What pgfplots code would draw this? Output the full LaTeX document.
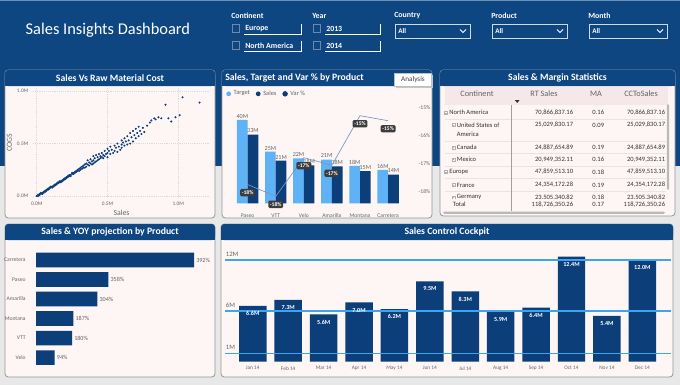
\documentclass[border=0pt]{standalone}
\usepackage{fontspec}
\setmainfont{Carlito}
\usepackage{pgfplots}
\usepackage{pgfplotstable}
\pgfplotsset{compat=1.18}
\pgfplotsset{/pgf/number format/assume math mode=true}
\definecolor{hdr}{RGB}{14,70,130}
\definecolor{navy}{RGB}{12,62,122}
\definecolor{tgt}{RGB}{95,178,245}
\definecolor{panelbg}{RGB}{253,246,245}
\definecolor{pagebg}{RGB}{232,232,232}
\definecolor{bordr}{RGB}{150,150,150}
\definecolor{txtgrey}{RGB}{100,100,100}
\definecolor{tabtxt}{RGB}{50,50,50}
\definecolor{hdrrow}{RGB}{246,232,232}
\definecolor{cockline}{RGB}{60,165,240}
\definecolor{varline}{RGB}{120,150,200}
\definecolor{lblbox}{RGB}{60,60,60}
\definecolor{chk}{RGB}{110,135,170}
\newcommand\fs[1]{\fontsize{#1}{#1}\selectfont}
\newcommand\panel[4]{%
 \fill[panelbg, draw=bordr, line width=0.6pt, rounded corners=2.5pt] (#1,#2) rectangle (#3,#4);
 \fill[hdr, rounded corners=2.5pt] (#1,#2) rectangle (#3,#2+16);
 \fill[hdr] (#1,#2+8) rectangle (#3,#2+16);}
\newcommand\trow[6]{%
 \draw[gray!60, line width=0.3pt] (#2,#1-1.5) rectangle (#2+3,#1+1.5);
 \draw[gray!60, line width=0.3pt] (#2+0.7,#1) -- (#2+2.3,#1);
 \node[anchor=west] at (#2+4,#1) {#3};
 \node[anchor=east] at (574,#1) {#4};
 \node[anchor=east] at (605,#1) {#5};
 \node[anchor=east] at (666,#1) {#6};}
\pgfplotstableread{
x tgt tl sal sl var vl
0 40.0 40 33.0 33 -17.76 -18
1 24.8 25 20.5 21 -18.18 -18
2 21.6 22 18.25 18 -16.80 -17
3 21.0 21 17.7 18 -17.07 -17
4 18.0 18 15.4 15 -15.30 -15
5 16.0 16 13.8 14 -15.48 -15
}\combo
\pgfplotstableread{
y len pct
0 18.7 94
1 36.0 180
2 37.3 187
3 61.3 304
4 72.3 358
5 158.0 392
}\yoy
\pgfplotstableread{
m v
0 6.6
1 7.3
2 5.6
3 7.0
4 6.2
5 9.5
6 8.3
7 5.9
8 6.4
9 12.4
10 5.4
11 12.0
}\cock
\begin{document}
\begin{tikzpicture}[x=0.75pt,y=-0.75pt]
\useasboundingbox (0,0) rectangle (680,385);
\fill[pagebg] (0,0) rectangle (680,385);
\fill[hdr] (0,0) rectangle (680,166);
\fill[hdr!60!white] (0,0) rectangle (680,1.5);
% header
\node[anchor=west, white, font=\fs{12.3}] at (21,30) {Sales Insights Dashboard};
\begin{scope}[every node/.style={anchor=west, white, font=\fs{5.9}\bfseries, inner sep=0pt}]
\node at (231,16) {Continent};
\node at (312,16) {Year};
\node at (394,16) {Country};
\node at (491,16) {Product};
\node at (588,16) {Month};
\node at (245,28.5) {Europe};
\node at (245,45.5) {North America};
\node at (326,28.5) {2013};
\node at (326,45.5) {2014};
\node[font=\fs{5.3}\bfseries] at (398,31.5) {All};
\node[font=\fs{5.3}\bfseries] at (495,31.5) {All};
\node[font=\fs{5.3}\bfseries] at (592,31.5) {All};
\end{scope}
\draw[chk, line width=0.5pt] (232,24.5) rectangle (239.5,32) (232,41.5) rectangle (239.5,49) (313,24.5) rectangle (320.5,32) (313,41.5) rectangle (320.5,49);
\draw[white, line width=0.6pt] (244,34) -- (301,34) -- (301,24) (244,51) -- (301,51) -- (301,41) (325,34) -- (380,34) -- (380,24) (325,51) -- (380,51) -- (380,41);
\draw[white!80!hdr, line width=0.6pt] (395,24.5) rectangle (470,38) (492,24.5) rectangle (567,38) (589,24.5) rectangle (667,38);
\draw[white, line width=0.6pt] (460,29.5) -- (463,32.5) -- (466,29.5) (557,29.5) -- (560,32.5) -- (563,29.5) (657,29.5) -- (660,32.5) -- (663,29.5);
% panels
\panel{5}{70}{215}{218}
\panel{222}{70}{432}{218}
\panel{440}{70}{675}{216}
\panel{5}{224}{215}{377}
\panel{221}{224}{673}{377}
\begin{scope}[every node/.style={white, font=\fs{7.3}\bfseries}]
\node at (110,78) {Sales Vs Raw Material Cost};
\node[anchor=west, inner sep=0pt] at (225,78) {Sales, Target and Var \% by Product};
\node at (557.5,78) {Sales \& Margin Statistics};
\node at (110,232) {Sales \& YOY projection by Product};
\node at (447,232) {Sales Control Cockpit};
\end{scope}
\fill[gray!45] (396,74.5) rectangle (433,87.5);
\fill[white, draw=gray!50, line width=0.4pt] (394.5,73) rectangle (431.5,86);
\node[font=\fs{5.4}, text=black!75] at (413,79.5) {Analysis};
% scatter
\begin{axis}[at={(24.75pt,-147.75pt)}, anchor=south west, scale only axis, width=132.75pt, height=81.75pt,
 xmin=-0.026, xmax=1.224, ymin=-0.0095, ymax=1.029,
 axis line style={draw=none}, tick style={draw=none},
 grid=major, grid style={densely dotted, gray!30},
 xtick={0,0.5,1}, xticklabels={0.0M,0.5M,1.0M}, ytick={0,0.5,1}, yticklabels={0.0M,0.5M,1.0M},
 ticklabel style={font=\fs{4}, text=txtgrey},
 xlabel={Sales}, ylabel={COGS}, label style={font=\fs{5.8}, text=txtgrey},
 xlabel style={yshift=3pt}, ylabel style={yshift=-3pt}]
\addplot[only marks, mark=*, mark size=0.55pt, navy] table {
x y
0.00 0.00
0.01 0.01
0.01 0.00
0.02 0.01
0.02 0.02
0.03 0.02
0.03 0.03
0.04 0.03
0.04 0.02
0.05 0.04
0.05 0.03
0.06 0.05
0.06 0.04
0.07 0.05
0.07 0.06
0.08 0.06
0.08 0.07
0.09 0.07
0.09 0.08
0.10 0.08
0.10 0.09
0.11 0.09
0.11 0.08
0.12 0.10
0.12 0.09
0.13 0.11
0.13 0.10
0.14 0.11
0.14 0.12
0.15 0.12
0.15 0.13
0.16 0.13
0.16 0.14
0.17 0.14
0.17 0.13
0.18 0.15
0.18 0.14
0.19 0.16
0.19 0.15
0.20 0.17
0.20 0.16
0.21 0.17
0.21 0.18
0.22 0.18
0.22 0.19
0.23 0.19
0.23 0.20
0.24 0.20
0.24 0.19
0.25 0.21
0.25 0.22
0.26 0.22
0.26 0.21
0.27 0.23
0.27 0.22
0.28 0.24
0.28 0.23
0.29 0.25
0.29 0.24
0.30 0.26
0.30 0.24
0.31 0.27
0.31 0.25
0.32 0.28
0.32 0.26
0.33 0.29
0.33 0.27
0.34 0.30
0.34 0.27
0.35 0.31
0.35 0.28
0.36 0.34
0.36 0.30
0.37 0.32
0.37 0.29
0.38 0.35
0.38 0.31
0.39 0.33
0.39 0.30
0.40 0.38
0.40 0.34
0.40 0.31
0.41 0.36
0.41 0.32
0.42 0.39
0.42 0.33
0.43 0.37
0.43 0.34
0.44 0.40
0.44 0.35
0.45 0.38
0.45 0.36
0.46 0.41
0.46 0.37
0.47 0.39
0.47 0.36
0.48 0.43
0.48 0.38
0.49 0.40
0.50 0.45
0.50 0.41
0.50 0.37
0.51 0.43
0.52 0.40
0.52 0.47
0.53 0.44
0.54 0.41
0.55 0.48
0.55 0.43
0.56 0.46
0.57 0.42
0.57 0.50
0.58 0.47
0.59 0.44
0.60 0.53
0.60 0.49
0.60 0.46
0.61 0.51
0.62 0.48
0.62 0.55
0.63 0.52
0.64 0.49
0.64 0.57
0.65 0.53
0.66 0.50
0.66 0.60
0.67 0.56
0.68 0.52
0.68 0.62
0.69 0.58
0.70 0.55
0.70 0.64
0.71 0.60
0.72 0.57
0.72 0.66
0.73 0.62
0.74 0.59
0.75 0.65
0.76 0.61
0.78 0.67
0.80 0.70
0.81 0.72
0.83 0.74
0.84 0.73
0.86 0.75
0.88 0.74
0.91 0.87
0.93 0.74
0.95 0.71
0.98 0.75
1.01 0.77
1.03 0.94
1.15 0.89
};
\end{axis}
% combo
\begin{axis}[at={(169.5pt,-152.475pt)}, anchor=south west, scale only axis, width=138pt, height=77.475pt,
 xmin=-0.77, xmax=5.78, ymin=0, ymax=49.6, clip=false,
 axis line style={draw=none}, tick style={draw=none},
 ytick=\empty, xtick={0,...,5}, xticklabels={Paseo,VTT,Velo,Amarilla,Montana,Carretera},
 xticklabel style={font=\fs{4.2}, text=txtgrey},
 ybar=0pt, bar width=8pt,
 nodes near coords={\pgfmathprintnumber{\pgfplotspointmeta}M}, point meta=explicit,
 every node near coord/.append style={font=\fs{4.6}, text=txtgrey, inner sep=1pt},
 legend style={at={(0,1)}, anchor=south west, draw=none, fill=none, font=\fs{4.8}, text=txtgrey, inner sep=0pt, /tikz/every even column/.append style={column sep=2.5pt}},
 legend columns=3, legend cell align=left]
\addplot[fill=tgt, draw=none, legend image code/.code={\fill[tgt] (0pt,0pt) circle (1.8pt);}] table[x=x,y=tgt,meta=tl]{\combo};
\addlegendentry{Target}
\addplot[fill=navy, draw=none, legend image code/.code={\fill[navy] (0pt,0pt) circle (1.8pt);}] table[x=x,y=sal,meta=sl]{\combo};
\addlegendentry{Sales}
\addlegendimage{legend image code/.code={\fill[navy] (0pt,0pt) circle (1.8pt);}}
\addlegendentry{Var \%}
\end{axis}
\begin{axis}[at={(169.5pt,-152.475pt)}, anchor=south west, scale only axis, width=138pt, height=77.475pt,
 xmin=-0.77, xmax=5.78, ymin=-18.43, ymax=-14.74, clip=false,
 hide x axis, axis y line*=right, axis line style={draw=none}, tick style={draw=none},
 ytick={-18,-17,-16,-15}, yticklabels={-18\%,-17\%,-16\%,-15\%},
 yticklabel style={font=\fs{4.2}, text=txtgrey, xshift=3pt}]
\addplot[varline, line width=0.5pt, mark=none, point meta=explicit,
 nodes near coords={\pgfmathprintnumber{\pgfplotspointmeta}\%},
 every node near coord/.append style={fill=lblbox, text=white, font=\fs{4.2}\bfseries, rounded corners=1pt, inner sep=1.3pt, anchor=north, yshift=-3pt}]
 table[x=x,y=var,meta=vl]{\combo};
\end{axis}
% table
\fill[hdrrow] (445,87) rectangle (668,104.5);
\begin{scope}[every node/.style={font=\fs{6.2}, text=txtgrey}]
\node at (477,94) {Continent};
\node at (544,94) {RT Sales};
\node at (596,94) {MA};
\node at (641,94) {CCToSales};
\end{scope}
\fill[black!80] (514.8,100) -- (519.6,100) -- (517.2,103) -- cycle;
\draw[gray!20, line width=0.4pt] (445,119.5) -- (666,119.5) (445,141) -- (666,141) (445,153.5) -- (666,153.5) (445,166) -- (666,166) (445,178.5) -- (666,178.5) (445,191) -- (666,191);
\begin{scope}[every node/.style={font=\fs{4.9}, text=tabtxt, inner sep=0.5pt}]
\trow{112.7}{444.5}{North America}{70,866,837.16}{0.16}{70,866,837.16}
\trow{125}{452}{United States of}{25,029,830.17}{0.09}{25,029,830.17}
\node[anchor=west] at (456,134) {America};
\trow{147.3}{452}{Canada}{24,887,654.89}{0.19}{24,887,654.89}
\trow{159.3}{452}{Mexico}{20,949,352.11}{0.16}{20,949,352.11}
\trow{172}{444.5}{Europe}{47,859,513.10}{0.18}{47,859,513.10}
\trow{185}{452}{France}{24,354,172.28}{0.19}{24,354,172.28}
\trow{197.3}{452}{Germany}{23,505,340.82}{0.18}{23,505,340.82}
\fill[panelbg] (444,199.3) rectangle (666,210.5);
\node[anchor=west] at (452,204.7) {Total};
\node[anchor=east] at (574,204.7) {118,726,350.26};
\node[anchor=east] at (605,204.7) {0.17};
\node[anchor=east] at (666,204.7) {118,726,350.26};
\end{scope}
\draw[gray!75, line width=0.6pt] (511.5,104.5) -- (511.5,210.5);
\fill[gray!55, rounded corners=1pt] (666.8,104) rectangle (669.2,190);
\fill[gray!55, rounded corners=1pt] (443,211.5) rectangle (665,213.8);
% YOY
\begin{axis}[at={(27pt,-276pt)}, anchor=south west, scale only axis, width=126.75pt, height=88.5pt,
 xmin=0, xmax=169, ymin=-0.53, ymax=5.51, clip=false,
 xbar, bar width=11pt, hide x axis, axis line style={draw=none}, tick style={draw=none},
 ytick={0,...,5}, yticklabels={Velo,VTT,Montana,Amarilla,Paseo,Carretera},
 yticklabel style={font=\fs{4.2}, text=txtgrey}]
\addplot[fill=navy, draw=none, point meta=explicit,
 nodes near coords={\pgfmathprintnumber{\pgfplotspointmeta}\%},
 every node near coord/.append style={font=\fs{4.6}, text=txtgrey, anchor=west, inner sep=1.5pt}]
 table[x=len,y=y,meta=pct]{\yoy};
\end{axis}
% cockpit
\begin{axis}[at={(168.75pt,-271.275pt)}, anchor=south west, scale only axis, width=334.5pt, height=83.775pt,
 xmin=-0.785, xmax=11.81, ymin=0, ymax=13.19, clip=false,
 hide y axis, axis line style={draw=none}, tick style={draw=none},
 xtick={0,...,11}, xticklabels={Jan 14,Feb 14,Mar 14,Apr 14,May 14,Jun 14,Jul 14,Aug 14,Sep 14,Oct 14,Nov 14,Dec 14},
 xticklabel style={font=\fs{4}, text=txtgrey}]
\addplot[ybar, bar width=20.6pt, fill=navy, draw=none, point meta=y,
 nodes near coords={\pgfmathprintnumber[fixed,precision=1,fixed zerofill]{\pgfplotspointmeta}M},
 every node near coord/.append style={font=\fs{4.6}\bfseries, text=white, anchor=north, inner sep=1.5pt, yshift=-2.5pt}]
 table[x=m,y=v]{\cock};
\addplot[cockline, line width=1pt] coordinates {(-0.785,12) (11.81,12)};
\addplot[cockline, line width=1pt] coordinates {(-0.785,6) (11.81,6)};
\addplot[cockline, line width=1pt] coordinates {(-0.785,1) (11.81,1)};
\node[anchor=south west, font=\fs{5}, text=txtgrey, inner sep=0.5pt, yshift=2pt] at (axis cs:-0.785,12) {12M};
\node[anchor=south west, font=\fs{5}, text=txtgrey, inner sep=0.5pt, yshift=2pt] at (axis cs:-0.785,6) {6M};
\node[anchor=south west, font=\fs{5}, text=txtgrey, inner sep=0.5pt, yshift=2pt] at (axis cs:-0.785,1) {1M};
\end{axis}
\end{tikzpicture}
\end{document}
